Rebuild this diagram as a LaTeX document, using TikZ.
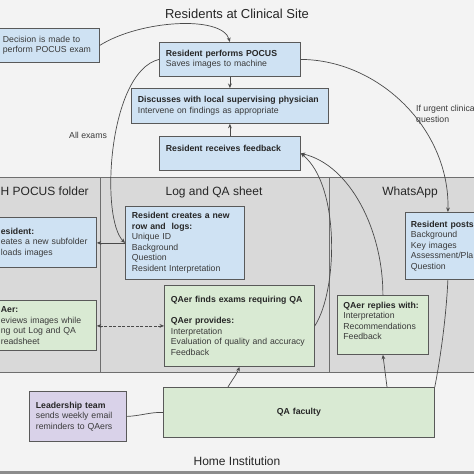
\documentclass[tikz,border=0pt]{standalone}
\usepackage{fontspec}
\setmainfont{Liberation Sans}
\usetikzlibrary{arrows.meta,calc}
\definecolor{bgl}{HTML}{F3F3F3}
\definecolor{band}{HTML}{D9D9D9}
\definecolor{bandln}{HTML}{6E6E6E}
\definecolor{blu}{HTML}{CFE2F3}
\definecolor{grn}{HTML}{D9EAD3}
\definecolor{pur}{HTML}{D9D2E9}
\definecolor{bord}{HTML}{595959}
\definecolor{txt}{HTML}{3A3A3A}
\definecolor{lin}{HTML}{4A4A4A}
\newcommand{\hd}[1]{{\bfseries\color{black!85}#1}}
\tikzset{
  bx/.style={draw=bord, line width=0.8pt, anchor=north west, inner xsep=6.5pt, inner ysep=0pt,
    align=left, text=txt, font=\fontsize{8.7}{10.5}\selectfont},
  ttl/.style={anchor=base, text=black!85, font=\fontsize{12}{14}\selectfont, inner sep=0pt},
  lbl/.style={anchor=base west, text=txt, font=\fontsize{8.7}{10.5}\selectfont, inner sep=0pt},
  arr/.style={draw=lin, line width=0.7pt, -{Stealth[length=4.5pt,width=3.8pt]}},
  dbl/.style={draw=lin, line width=0.7pt, dash pattern=on 3pt off 1.5pt,
    {Stealth[length=4.5pt,width=3.8pt]}-{Stealth[length=4.5pt,width=3.8pt]}},
  ln/.style={draw=lin, line width=0.7pt},
  bandline/.style={draw=bandln, line width=1pt},
}
\begin{document}
\begin{tikzpicture}[x=1pt,y=-1pt]
\useasboundingbox (0,0) rectangle (474,474);
\clip (0,0) rectangle (474,474);
% backgrounds
\fill[bgl] (0,0) rectangle (474,474);
\fill[band] (0,177) rectangle (474,372);
\draw[bandline] (0,177) -- (474,177);
\draw[bandline] (0,372) -- (474,372);
\draw[bandline] (100,177) -- (100,372);
\draw[bandline] (329,177) -- (329,372);
\fill[black!45] (0,471) rectangle (474,474);

% titles
\node[ttl, font=\fontsize{13}{15}\selectfont] (ttop) at (237,18) {Residents at Clinical Site};
\node[ttl, anchor=base west] (tfold) at (0.5,195) {H POCUS folder};
\node[ttl] (tlog) at (214,195) {Log and QA sheet};
\node[ttl] (twa) at (410,195) {WhatsApp};
\node[ttl] (thome) at (237,465) {Home Institution};

% boxes
\node[bx, fill=blu, minimum width=103pt, minimum height=34pt, text width=90pt] (dec) at (-4,28)
  {Decision is made to\\perform POCUS exam};
\node[bx, fill=blu, minimum width=141pt, minimum height=34pt, text width=128pt] (perf) at (159,42)
  {\hd{Resident performs POCUS}\\Saves images to machine};
\node[bx, fill=blu, minimum width=197pt, minimum height=35pt, text width=184pt] (disc) at (131,88)
  {\hd{Discusses with local supervising physician}\\Intervene on findings as appropriate};
\node[bx, fill=blu, minimum width=141pt, minimum height=34pt, text width=128pt, text height=15pt, text depth=19pt] (recv) at (159,136)
  {\hd{Resident receives feedback}};
\node[bx, fill=blu, minimum width=102pt, minimum height=50pt, text width=89pt] (lres) at (-6,217)
  {\hd{esident:}\\eates a new subfolder\\loads images};
\node[bx, fill=grn, minimum width=102pt, minimum height=50pt, text width=89pt] (lqaer) at (-6,300)
  {\hd{Aer:}\\eviews images while\\ng out Log and QA\\readsheet};
\node[bx, fill=blu, minimum width=119pt, minimum height=73pt, text width=106pt] (creates) at (125,206)
  {\hd{Resident creates a new}\\\hd{row and\ \ logs:}\\Unique ID\\Background\\Question\\Resident Interpretation};
\node[bx, fill=grn, minimum width=150pt, minimum height=81pt, text width=137pt] (qafind) at (164,285)
  {\hd{QAer finds exams requiring QA}\\[10.5pt]\hd{QAer provides:}\\Interpretation\\Evaluation of quality and accuracy\\Feedback};
\node[bx, fill=blu, inner xsep=5.5pt, minimum width=85pt, minimum height=67pt, text width=74pt] (posts) at (405,212)
  {\hd{Resident posts}\\Background\\Key images\\Assessment/Pla\\Question};
\node[bx, fill=grn, inner xsep=6pt, minimum width=91pt, minimum height=59pt, text width=79pt] (replies) at (337,295)
  {\hd{QAer replies with:}\\Interpretation\\Recommendations\\Feedback\\[-2.5pt]\mbox{}};
\node[bx, fill=pur, minimum width=97pt, minimum height=50pt, text width=84pt] (lead) at (29,391)
  {\hd{Leadership team}\\sends weekly email\\reminders to QAers};
\node[bx, fill=grn, minimum width=271pt, minimum height=50pt, text width=258pt, align=center] (qafac) at (163,387)
  {\hd{QA faculty}};

% labels
\node[lbl] (lall) at (69,138.5) {All exams};
\node[lbl] (lurg1) at (416,111.5) {If urgent clinica};
\node[lbl] (lurg2) at (416,122) {question};

% connectors
\draw[arr] (dec.east) .. controls (140,20) and (222,15) .. (perf.north);
\draw[arr] (perf.south) -- (disc.north);
\draw[arr] (recv.north) -- (disc.south);
\draw[arr] (perf.west) .. controls (108,72) and (100,218) .. (creates.west);
\draw[arr] (creates.west) -- (creates.west -| lres.east);
\draw[dbl] (qafind.west) -- (qafind.west -| lqaer.east);
\draw[arr] (perf.east) .. controls (380,60) and (450,130) .. (posts.north);
\draw[arr] (qafind.east) .. controls (338,290) and (340,185) .. (recv.east);
\draw[arr] (replies.north) .. controls (383,230) and (350,165) .. (recv.east);
\draw[ln] (posts.south) .. controls (446,320) and (440,360) .. (qafac.north east);
\draw[arr] ([xshift=224pt]qafac.north west) -- (replies.south);
\draw[arr] ([xshift=65pt]qafac.north west) .. controls (232,380) and (237,374) .. (qafind.south);
\draw[ln] (lead.east) .. controls (140,416) and (150,412) .. (qafac.west);
\end{tikzpicture}
\end{document}
